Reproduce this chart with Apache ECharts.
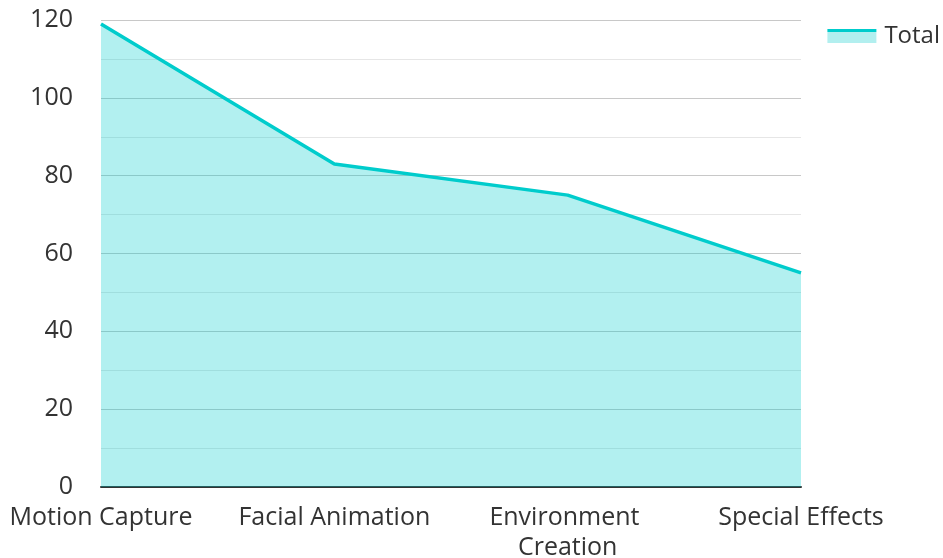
<!DOCTYPE html>
<html>
<head>
<meta charset="utf-8">
<script src="https://cdn.jsdelivr.net/npm/echarts@6/dist/echarts.min.js"></script>
<style>
html, body { margin: 0; padding: 0; background: #fff; }
#main { width: 943px; height: 558px; }
</style>
</head>
<body>
<div id="main"></div>
<script>
var categories = ['Motion Capture', 'Facial Animation', 'Environment Creation', 'Special Effects'];
var totals = [119, 83, 75, 55];
var seriesName = 'Total';

var myChart = echarts.init(document.getElementById('main'));
var font = '"Open Sans", "Noto Sans", sans-serif';
var lineColor = '#00cccc';

var option = {
    animation: false,
    textStyle: { fontFamily: font },
    grid: { left: 101, right: 142, top: 20, bottom: 71, outerBoundsMode: 'none' },
    legend: {
        data: [seriesName],
        right: 0,
        top: 19,
        padding: [5, 3, 5, 5],
        icon: 'rect',
        itemWidth: 49,
        itemHeight: 14,
        itemGap: 8,
        lineStyle: { width: 0, opacity: 0 },
        itemStyle: {
            color: new echarts.graphic.LinearGradient(0, 0, 0, 1, [
                { offset: 0, color: lineColor },
                { offset: 0.22, color: lineColor },
                { offset: 0.22, color: '#b2efef' },
                { offset: 1, color: '#b2efef' }
            ])
        },
        textStyle: { fontSize: 24, color: '#333', fontFamily: font, padding: [0, 0, 0, 3] }
    },
    xAxis: {
        type: 'category',
        data: categories,
        boundaryGap: false,
        axisLine: { lineStyle: { color: '#333', width: 2 } },
        axisTick: { show: false },
        axisLabel: {
            fontSize: 25,
            color: '#333',
            margin: 16,
            interval: 0,
            width: 195,
            overflow: 'break',
            lineHeight: 30
        }
    },
    yAxis: {
        type: 'value',
        min: 0,
        max: 120,
        interval: 20,
        axisLine: { show: false },
        axisTick: { show: false },
        axisLabel: { fontSize: 25, color: '#333', margin: 28 },
        splitLine: { lineStyle: { color: '#c8c8c8', width: 1 } },
        minorTick: { show: false, splitNumber: 2 },
        minorSplitLine: { show: true, lineStyle: { color: '#e6e6e6', width: 1 } }
    },
    series: [{
        name: seriesName,
        type: 'line',
        data: totals,
        symbol: 'none',
        lineStyle: { color: lineColor, width: 3.5 },
        itemStyle: { color: lineColor },
        areaStyle: { color: lineColor, opacity: 0.3 }
    }]
};
myChart.setOption(option);
</script>
</body>
</html>
